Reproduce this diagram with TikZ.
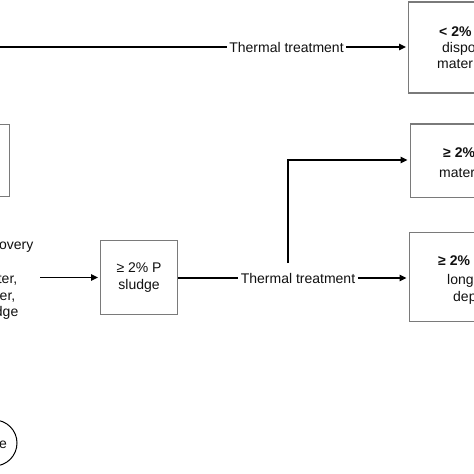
\documentclass[tikz,border=0pt]{standalone}
\usepackage{fontspec}
\setmainfont{Liberation Sans}
\usetikzlibrary{arrows.meta}
\definecolor{boxgray}{HTML}{7A7A7A}
\definecolor{ink}{HTML}{111111}
\begin{document}
\begin{tikzpicture}[x=1bp,y=-1bp,
  every node/.style={font=\fontsize{14bp}{17bp}\selectfont, text=ink},
  box/.style={draw=boxgray, line width=1.1bp, inner sep=0pt, anchor=north west},
  frag/.style={inner sep=0pt, anchor=base west},
  fragr/.style={inner sep=0pt, anchor=base east},
  lbl/.style={inner xsep=2.5bp, inner ysep=0pt},
  conn/.style={draw=black, line width=1.5bp},
  arr/.style={conn, -{Triangle[length=7bp,width=6.5bp]}, shorten >=2bp}
]
\useasboundingbox (0,0) rectangle (474,474);
\clip (0,0) rectangle (474,474);
\fill[white] (0,0) rectangle (474,474);

% boxes
\node[box, minimum width=130bp, minimum height=91bp] (topbox) at (408,1.5) {};
\node[box, minimum width=130bp, minimum height=73bp] (midbox) at (409.5,123.5) {};
\node[box, minimum width=130bp, minimum height=89bp] (botbox) at (408.5,232) {};
\node[box, minimum width=40bp, minimum height=72bp] (leftbox) at (-31,124) {};
\node[box, minimum width=77bp, minimum height=74bp, align=center] (sludge) at (100,240)
  {≥ 2\% P\\sludge};
\node[draw=black, line width=1bp, circle, minimum size=46bp, inner sep=0pt] (circ) at (-6,443) {};

% box text fragments
\node[frag, font=\fontsize{14bp}{17bp}\selectfont\bfseries] (t1a) at (439,37) {< 2\%};
\node[frag] (t1b) at (442,53) {dispo};
\node[frag] (t1c) at (437,69) {mater};
\node[frag, font=\fontsize{14bp}{17bp}\selectfont\bfseries] (t2a) at (443,158) {≥ 2\%};
\node[frag] (t2b) at (439,178) {mater};
\node[frag, font=\fontsize{14bp}{17bp}\selectfont\bfseries] (t3a) at (438,265) {≥ 2\%};
\node[frag] (t3b) at (447,284) {long};
\node[frag] (t3c) at (453,301) {dep};
\node[fragr] (l1) at (33.5,249) {overy};
\node[fragr] (l2) at (17.5,283) {ter,};
\node[fragr] (l3) at (15.5,300) {er,};
\node[fragr] (l4) at (18.5,316) {dge};
\node[fragr] (ce) at (7,448) {e};

% labels
\node[lbl] (tt1) at (286.5,47) {Thermal treatment};
\node[lbl] (tt2) at (298,278) {Thermal treatment};

% connectors
\coordinate (s0) at (0,47);
\coordinate (s1) at (40,277.5);
\coordinate (up) at (288,263);
\coordinate (corner) at (288,160);
\draw[conn] (s0) -- (tt1.west);
\draw[arr] (tt1.east) -- (topbox.west |- tt1.east);
\draw[arr] (s1) -- (sludge.west |- s1);
\draw[conn] (sludge.east |- tt2.west) -- (tt2.west);
\draw[arr] (tt2.east) -- (botbox.west |- tt2.east);
\draw[arr] (up) -- (corner) -- (midbox.west |- corner);
\end{tikzpicture}
\end{document}
